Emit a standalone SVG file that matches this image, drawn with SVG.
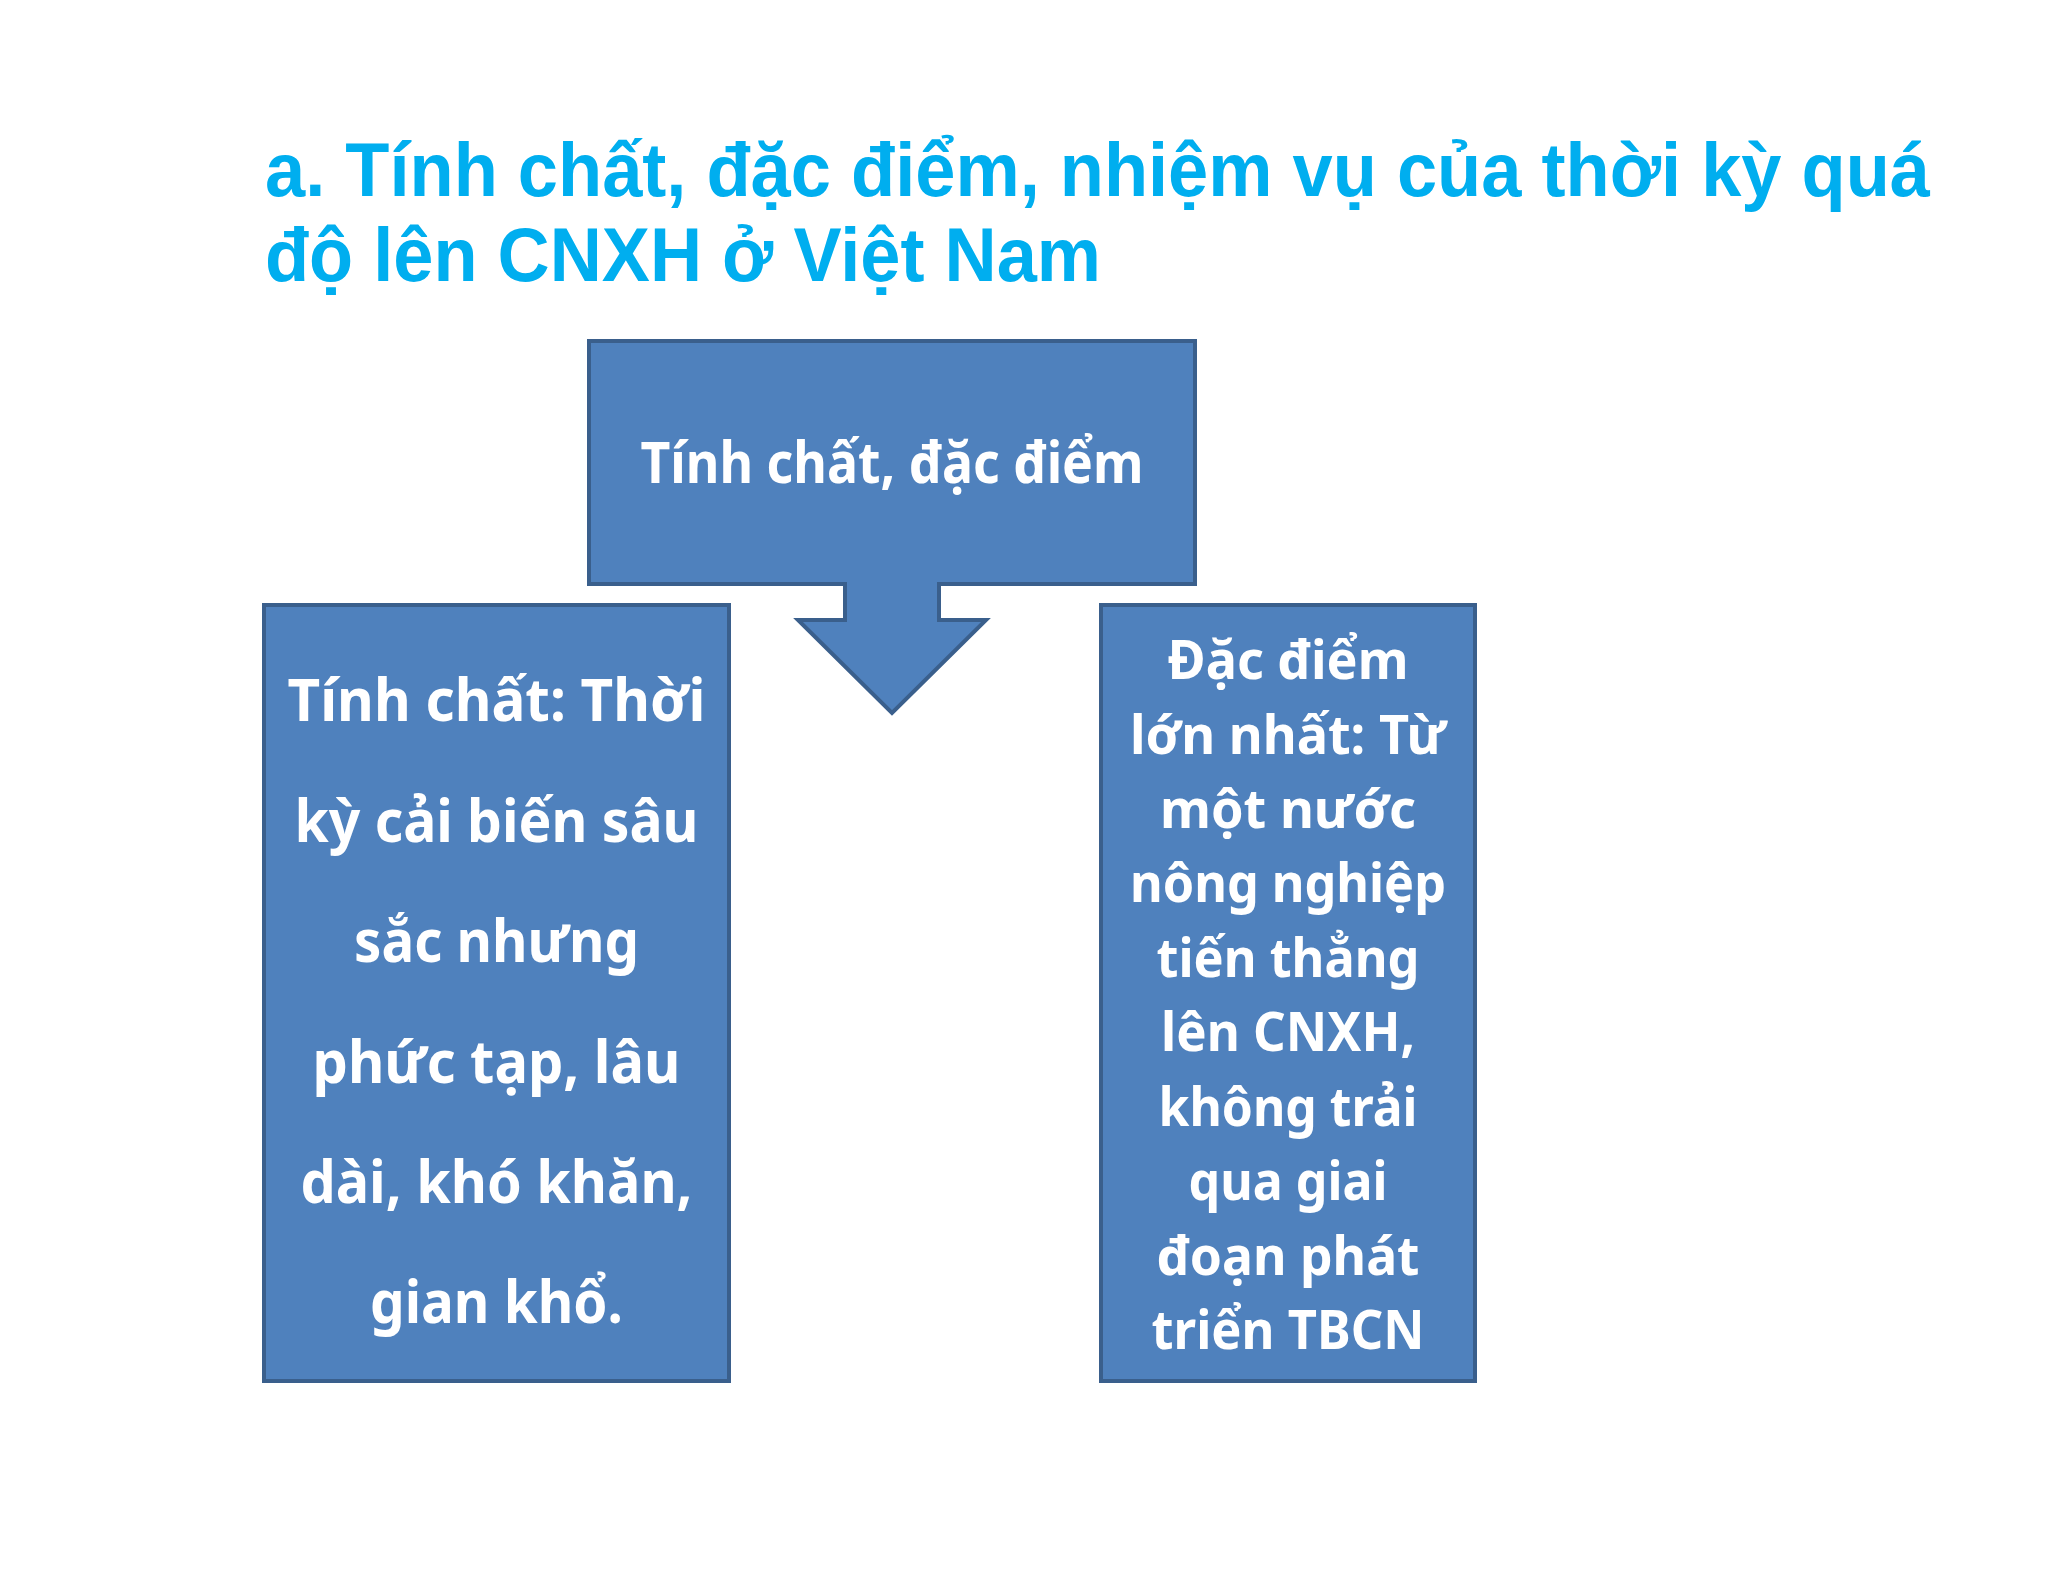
<svg xmlns="http://www.w3.org/2000/svg" width="2048" height="1582" viewBox="0 0 2048 1582">
<style>
.box{fill:#4F81BD;stroke:#3A5F8C;stroke-width:4;stroke-linejoin:miter}
.title{font-family:"Liberation Sans",Arial,sans-serif;font-weight:bold;font-size:76px;fill:#00AEEF}
.t{font-family:"Noto Sans","Open Sans",sans-serif;font-weight:bold;fill:#FFFFFF;text-anchor:middle}
.l{font-size:60px}
.r{font-size:54px}
.m{font-size:57px}
</style>
<rect x="0" y="0" width="2048" height="1582" fill="#FFFFFF"/>
<g id="title">
<text class="title" x="265" y="196" textLength="1665" lengthAdjust="spacingAndGlyphs">a. Tính chất, đặc điểm, nhiệm vụ của thời kỳ quá</text>
<text class="title" x="265" y="281" textLength="836" lengthAdjust="spacingAndGlyphs">độ lên CNXH ở Việt Nam</text>
</g>
<g id="connectors"></g>
<g id="node-top">
<path class="box" d="M589,341 H1195 V584 H939 V620 H986 L892,713 L798,620 H845 V584 H589 Z"/>
<text class="t m" x="892" y="483" textLength="503" lengthAdjust="spacingAndGlyphs">Tính chất, đặc điểm</text>
</g>
<g id="node-left">
<rect class="box" x="264" y="605" width="465" height="776"/>
<text class="t l" x="496.5" y="721" textLength="418" lengthAdjust="spacingAndGlyphs">Tính chất: Thời</text>
<text class="t l" x="496.5" y="842" textLength="404" lengthAdjust="spacingAndGlyphs">kỳ cải biến sâu</text>
<text class="t l" x="496.5" y="962" textLength="285" lengthAdjust="spacingAndGlyphs">sắc nhưng</text>
<text class="t l" x="496.5" y="1083" textLength="368" lengthAdjust="spacingAndGlyphs">phức tạp, lâu</text>
<text class="t l" x="496.5" y="1203" textLength="392" lengthAdjust="spacingAndGlyphs">dài, khó khăn,</text>
<text class="t l" x="496.5" y="1323" textLength="253" lengthAdjust="spacingAndGlyphs">gian khổ.</text>
</g>
<g id="node-right">
<rect class="box" x="1101" y="605" width="374" height="776"/>
<text class="t r" x="1288" y="679" textLength="241" lengthAdjust="spacingAndGlyphs">Đặc điểm</text>
<text class="t r" x="1288" y="754" textLength="316" lengthAdjust="spacingAndGlyphs">lớn nhất: Từ</text>
<text class="t r" x="1288" y="828" textLength="256" lengthAdjust="spacingAndGlyphs">một nước</text>
<text class="t r" x="1288" y="902" textLength="316" lengthAdjust="spacingAndGlyphs">nông nghiệp</text>
<text class="t r" x="1288" y="977" textLength="263" lengthAdjust="spacingAndGlyphs">tiến thẳng</text>
<text class="t r" x="1288" y="1051" textLength="254" lengthAdjust="spacingAndGlyphs">lên CNXH,</text>
<text class="t r" x="1288" y="1126" textLength="259" lengthAdjust="spacingAndGlyphs">không trải</text>
<text class="t r" x="1288" y="1200" textLength="199" lengthAdjust="spacingAndGlyphs">qua giai</text>
<text class="t r" x="1288" y="1275" textLength="263" lengthAdjust="spacingAndGlyphs">đoạn phát</text>
<text class="t r" x="1288" y="1349" textLength="273" lengthAdjust="spacingAndGlyphs">triển TBCN</text>
</g>
</svg>
